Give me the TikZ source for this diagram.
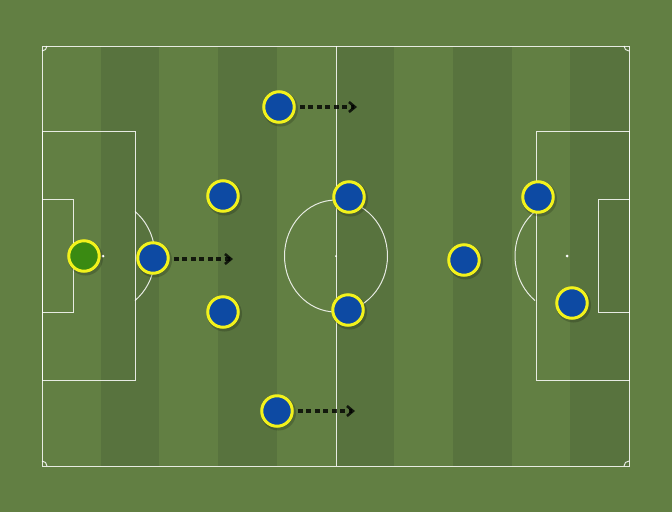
\documentclass[tikz,border=0pt]{standalone}
\usetikzlibrary{arrows.meta}
\definecolor{grass}{HTML}{627F43}
\definecolor{darkgrass}{HTML}{58733E}
\definecolor{pblue}{HTML}{0D4AA3}
\definecolor{pyellow}{HTML}{F2F21C}
\definecolor{pgreen}{HTML}{3A8A12}
\tikzset{
  pline/.style={draw=white, draw opacity=0.85, line width=1pt},
  player/.style={circle, minimum size=30.5pt, inner sep=0pt, draw=pyellow, line width=3pt, fill=pblue},
  keeper/.style={player, fill=pgreen},
  runarrow/.style={draw=black, draw opacity=0.8, line width=3.2pt, dash pattern=on 5pt off 3.5pt, -{Straight Barb[length=6pt,width=10pt,line width=2.6pt]}},
}
\begin{document}
\begin{tikzpicture}[x=1pt,y=-1pt]
\useasboundingbox (0,0) rectangle (672,512);
\fill[grass] (0,0) rectangle (672,512);
% stripes
\foreach \i in {1,3,5,7,9} {
  \fill[darkgrass] ({42+\i*58.7},46) rectangle ({42+(\i+1)*58.7},466);
}
% pitch lines
\draw[pline] (42,46) rectangle (629,466);
\draw[pline] (336,46) -- (336,466);
\draw[pline] (336,256) ellipse[x radius=51.5, y radius=56];
\fill[white] (336,256) circle (1);
% left
\draw[pline] (42,131) rectangle (135,380);
\draw[pline] (42,199) rectangle (73,312);
\fill[white] (103,256) circle (1.5);
\draw[pline] (103,256) ++(-52:52 and 56.5) arc[start angle=-52, end angle=52, x radius=52, y radius=56.5];
% right
\draw[pline] (536,131) rectangle (629,380);
\draw[pline] (598,199) rectangle (629,312);
\fill[white] (567,256) circle (1.5);
\draw[pline] (567,256) ++(232:52 and 56.5) arc[start angle=232, end angle=128, x radius=52, y radius=56.5];
% corners
\draw[pline] (47,46) arc[start angle=0, end angle=90, radius=5];
\draw[pline] (624,46) arc[start angle=180, end angle=90, radius=5];
\draw[pline] (47,466) arc[start angle=0, end angle=-90, radius=5];
\draw[pline] (624,466) arc[start angle=180, end angle=270, radius=5];
% shadows
\foreach \x/\y in {84/256,153/258,223/196,223/312,279/107,277/411,349/197,348/310,464/260,538/197,572/303} {
  \fill[black, opacity=0.18] (\x+1.5,\y+2) circle (17.5);
}
% players
\node[keeper] (gk) at (84,256) {};
\node[player] (p1) at (153,258) {};
\node[player] (p2) at (223,196) {};
\node[player] (p3) at (223,312) {};
\node[player] (p4) at (279,107) {};
\node[player] (p5) at (277,411) {};
\node[player] (p6) at (349,197) {};
\node[player] (p7) at (348,310) {};
\node[player] (p8) at (464,260) {};
\node[player] (p9) at (538,197) {};
\node[player] (p10) at (572,303) {};
% arrow targets
\coordinate (t1) at (233,259);
\coordinate (t4) at (357,107);
\coordinate (t5) at (355,411);
\draw[runarrow] ([xshift=4pt]p1.east |- t1) -- (t1);
\draw[runarrow] ([xshift=4pt]p4.east) -- (t4);
\draw[runarrow] ([xshift=4pt]p5.east) -- (t5);
\end{tikzpicture}
\end{document}
